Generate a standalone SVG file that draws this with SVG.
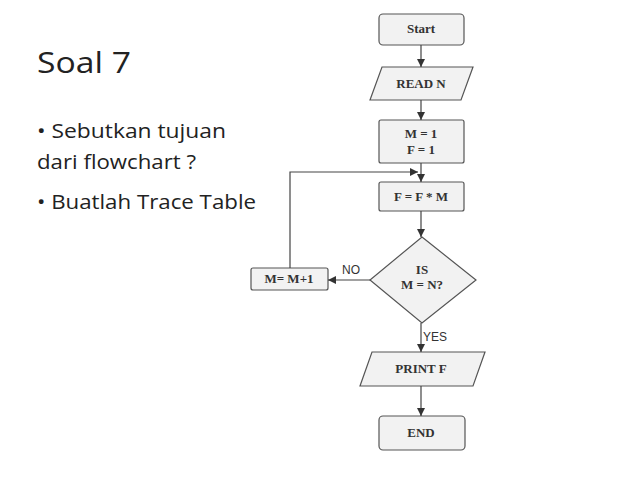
<svg xmlns="http://www.w3.org/2000/svg" width="638" height="478" viewBox="0 0 638 478">
<style>
.b{fill:#f2f2f2;stroke:#555;stroke-width:1.2}
.t{font-family:"Liberation Serif",serif;font-size:13px;fill:#333;text-anchor:middle;font-weight:bold}
.s{font-family:"Liberation Sans",sans-serif;font-size:12px;fill:#333}
.c{stroke:#444;stroke-width:1.2;fill:none}
.h{font-family:"Open Sans","Liberation Sans",sans-serif;fill:#222}
</style>
<defs><marker id="a" viewBox="0 0 8 8" refX="8" refY="4" markerWidth="7" markerHeight="7" orient="auto"><path d="M0,0L8,4L0,8z" fill="#333"/></marker></defs>
<rect width="638" height="478" fill="#fff"/>
<text class="h" x="37" y="73" font-size="30" textLength="94" lengthAdjust="spacingAndGlyphs">Soal 7</text>
<text class="h" x="37" y="138" font-size="20" textLength="189" lengthAdjust="spacingAndGlyphs">• Sebutkan tujuan</text>
<text class="h" x="37" y="169" font-size="20" textLength="159" lengthAdjust="spacingAndGlyphs">dari flowchart ?</text>
<text class="h" x="37" y="209" font-size="20" textLength="219" lengthAdjust="spacingAndGlyphs">• Buatlah Trace Table</text>
<g id="start"><rect class="b" x="379" y="14" width="85" height="31" rx="4"/><text class="t" x="421" y="33">Start</text></g>
<g id="read"><polygon class="b" points="382,67 473,67 461,100 370,100"/><text class="t" x="421" y="88">READ N</text></g>
<g id="init"><rect class="b" x="379" y="120" width="85" height="43" rx="2"/><text class="t" x="421" y="138">M = 1</text><text class="t" x="421" y="154">F = 1</text></g>
<g id="calc"><rect class="b" x="379" y="182" width="85" height="29" rx="2"/><text class="t" x="421" y="201">F = F * M</text></g>
<g id="dec"><polygon class="b" points="422,237 476,280 422,323 370,280"/><text class="t" x="422" y="274">IS</text><text class="t" x="422" y="289">M = N?</text></g>
<g id="inc"><rect class="b" x="251" y="268" width="77" height="22" rx="2"/><text class="t" x="289" y="283">M= M+1</text></g>
<g id="print"><polygon class="b" points="372,352 485,352 473,386 360,386"/><text class="t" x="421" y="373">PRINT F</text></g>
<g id="end"><rect class="b" x="379" y="416" width="86" height="34" rx="4"/><text class="t" x="421" y="437">END</text></g>
<g id="connectors">
<line class="c" x1="421" y1="45" x2="421" y2="67" marker-end="url(#a)"/>
<line class="c" x1="421" y1="100" x2="421" y2="120" marker-end="url(#a)"/>
<line class="c" x1="421" y1="163" x2="421" y2="182" marker-end="url(#a)"/>
<line class="c" x1="421" y1="211" x2="421" y2="237" marker-end="url(#a)"/>
<line class="c" x1="370" y1="280" x2="328" y2="280" marker-end="url(#a)"/>
<polyline class="c" points="290,268 290,172 418,172" marker-end="url(#a)"/>
<line class="c" x1="421" y1="323" x2="421" y2="352" marker-end="url(#a)"/>
<line class="c" x1="421" y1="386" x2="421" y2="416" marker-end="url(#a)"/>
<text class="s" x="342" y="274">NO</text>
<text class="s" x="423" y="341">YES</text>
</g>
</svg>
